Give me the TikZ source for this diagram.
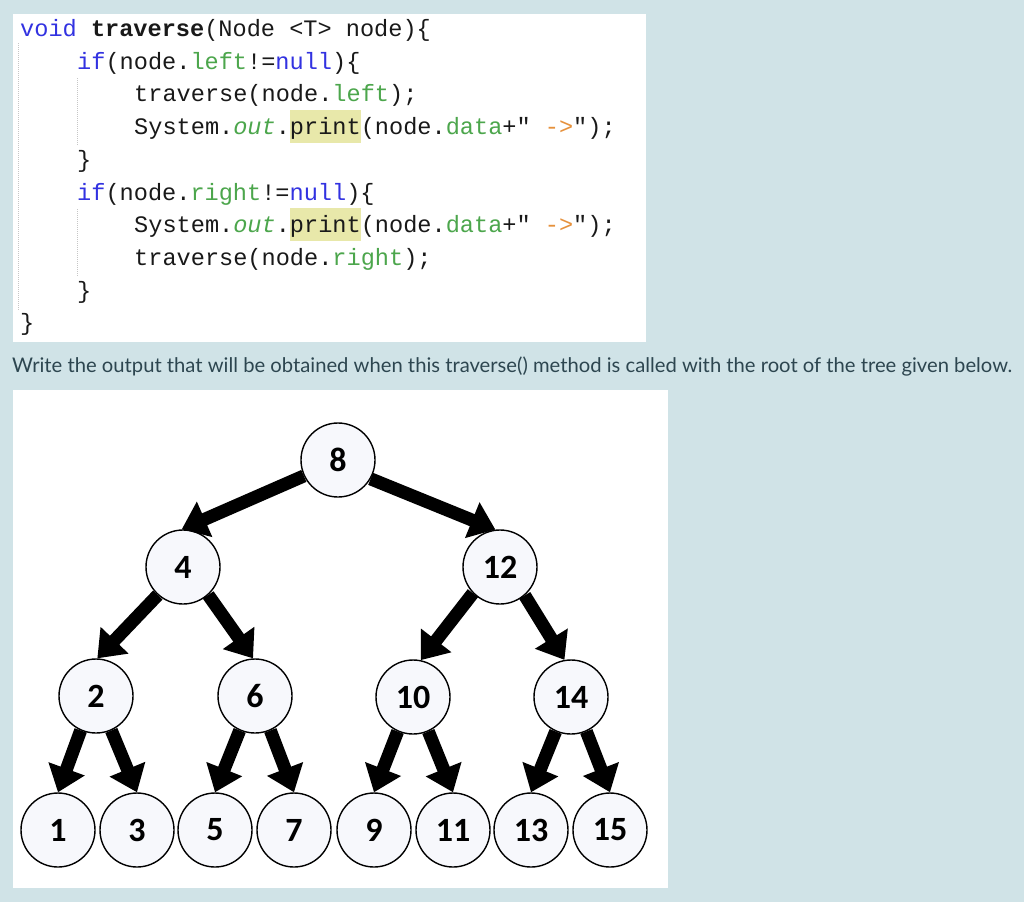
\documentclass[tikz,border=0pt]{standalone}
\usepackage{fontspec}
\usepackage{graphicx}
\usetikzlibrary{arrows.meta}
\setmainfont{Lato}
\newfontfamily\codefont{Liberation Mono}
\newfontfamily\nodefont{Carlito}
\definecolor{bg}{RGB}{208,227,231}
\definecolor{codeblack}{RGB}{25,25,25}
\definecolor{kwblue}{RGB}{50,50,225}
\definecolor{fldgreen}{RGB}{76,166,76}
\definecolor{strorange}{RGB}{230,145,60}
\definecolor{hlcol}{RGB}{232,232,170}
\definecolor{sentcol}{RGB}{45,70,80}
\definecolor{nodefill}{RGB}{247,248,252}
\newcommand{\kw}[1]{\textcolor{kwblue}{#1}}
\newcommand{\fld}[1]{\textcolor{fldgreen}{#1}}
\newcommand{\cstr}[1]{\textcolor{strorange}{#1}}
\newcommand{\hlprint}{\makebox[0pt][l]{\textcolor{hlcol}{\rule[-0.34em]{3em}{1.4em}}}print}
\tikzset{
  codeline/.style={anchor=base west, inner sep=0pt, text=codeblack,
    font=\codefont\fontsize{23.6}{28}\selectfont},
  guide/.style={draw=gray!45, line width=0.8pt, dash pattern=on 1pt off 1pt},
  tnode/.style={circle, draw=black, line width=1.4pt, minimum size=74pt,
    inner sep=0pt, fill=nodefill, font=\nodefont\bfseries\fontsize{34}{34}\selectfont},
  tarrow/.style={line width=13pt, -{Triangle[length=25pt,width=37pt]}}
}
\begin{document}
\begin{tikzpicture}[x=1pt,y=-1pt]
\useasboundingbox (0,0) rectangle (1024,902);
\fill[bg] (0,0) rectangle (1024,902);
% code box
\fill[white] (13,14) rectangle (646,342);
\draw[guide] (18,43) -- (18,310);
\draw[guide] (77,78) -- (77,146);
\draw[guide] (77,209) -- (77,277);
\node[codeline] (l1) at (20,36.5) {\kw{void} \textbf{traverse}(Node <T> node)\{};
\node[codeline] (l2) at (77,69.2) {\kw{if}(node.\fld{left}!=\kw{null})\{};
\node[codeline] (l3) at (134,101.9) {traverse(node.\fld{left});};
\node[codeline] (l4) at (134,134.6) {System.\fld{\itshape out}.\hlprint(node.\fld{data}+" \cstr{->}");};
\node[codeline] (l5) at (77,167.3) {\}};
\node[codeline] (l6) at (77,200) {\kw{if}(node.\fld{right}!=\kw{null})\{};
\node[codeline] (l7) at (134,232.7) {System.\fld{\itshape out}.\hlprint(node.\fld{data}+" \cstr{->}");};
\node[codeline] (l8) at (134,265.4) {traverse(node.\fld{right});};
\node[codeline] (l9) at (77,298.1) {\}};
\node[codeline] (l10) at (20,330.8) {\}};
% question
\node[anchor=west, inner sep=0pt, text=sentcol] (q) at (12,367)
  {\resizebox{1000pt}{!}{Write the output that will be obtained when this traverse() method is called with the root of the tree given below.}};
% tree box
\fill[white] (13,390) rectangle (668,888);
\node[tnode] (n8) at (338,460) {8};
\node[tnode] (n4) at (183,567) {4};
\node[tnode] (n12) at (500,567) {12};
\node[tnode] (n2) at (96,696) {2};
\node[tnode] (n6) at (255,696) {6};
\node[tnode] (n10) at (413,697) {10};
\node[tnode] (n14) at (571,697) {14};
\node[tnode] (n1) at (58,830) {1};
\node[tnode] (n3) at (137,830) {3};
\node[tnode] (n5) at (215,830) {5};
\node[tnode] (n7) at (294,830) {7};
\node[tnode] (n9) at (374,830) {9};
\node[tnode] (n11) at (453,830) {11};
\node[tnode] (n13) at (531,830) {13};
\node[tnode] (n15) at (610,830) {15};
% arrows
\draw[tarrow] (n8.205) -- (n4.92);
\draw[tarrow] (n8.330) -- (n12.97);
\draw[tarrow] (n4.228) -- (n2.88);
\draw[tarrow] (n4.312) -- (n6.93);
\draw[tarrow] (n12.224) -- (n10.78);
\draw[tarrow] (n12.311) -- (n14.100);
\draw[tarrow] (n2.246) -- (n1.90);
\draw[tarrow] (n2.294) -- (n3.90);
\draw[tarrow] (n6.246) -- (n5.90);
\draw[tarrow] (n6.294) -- (n7.90);
\draw[tarrow] (n10.246) -- (n9.90);
\draw[tarrow] (n10.294) -- (n11.90);
\draw[tarrow] (n14.246) -- (n13.90);
\draw[tarrow] (n14.294) -- (n15.90);
\end{tikzpicture}
\end{document}
